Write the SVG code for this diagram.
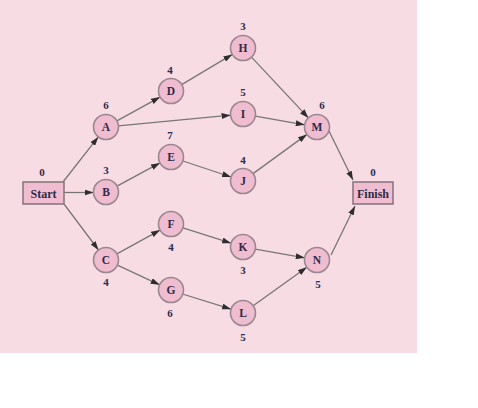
<svg xmlns="http://www.w3.org/2000/svg" width="478" height="408" viewBox="0 0 478 408">
<defs>
<marker id="ah" viewBox="0 0 9 6" refX="9" refY="3" markerWidth="9" markerHeight="6" markerUnits="userSpaceOnUse" orient="auto">
<path d="M0,0 L9,3 L0,6 z" fill="#2e2e2e"/>
</marker>
<style>
.e{stroke:#777;stroke-width:1.3;fill:none;marker-end:url(#ah)}
.n{fill:#f0bccf;stroke:#9a8890;stroke-width:1.6}
.b{fill:#f0bccf;stroke:#8a7880;stroke-width:1.6}
.t{font-family:"Liberation Serif",serif;font-weight:bold;font-size:11.5px;fill:#2b2b4a;text-anchor:middle}
.s{font-family:"Liberation Serif",serif;font-weight:bold;font-size:12px;fill:#2b2b4a;text-anchor:middle}
.l{font-family:"Liberation Serif",serif;font-weight:bold;font-size:11px;fill:#2b2b55;text-anchor:middle}
</style>
</defs>
<rect x="0" y="0" width="417" height="353" fill="#f8dce4"/>
<g id="connectors">
<line class="e" x1="63" y1="182" x2="98.3" y2="136.9"/>
<line class="e" x1="64" y1="192.5" x2="93.5" y2="192.5"/>
<line class="e" x1="64" y1="204" x2="98.5" y2="250"/>
<line class="e" x1="116.9" y1="120.9" x2="160.1" y2="97.1"/>
<line class="e" x1="118.4" y1="125.8" x2="230.6" y2="115.2"/>
<line class="e" x1="117" y1="186.1" x2="160" y2="162.9"/>
<line class="e" x1="181.7" y1="84.6" x2="232.3" y2="54.4"/>
<line class="e" x1="182.9" y1="161" x2="231.1" y2="177"/>
<line class="e" x1="251.5" y1="57.1" x2="308.4" y2="117.9"/>
<line class="e" x1="255.3" y1="116.2" x2="304.7" y2="124.8"/>
<line class="e" x1="253.1" y1="173.6" x2="306.9" y2="134.4"/>
<line class="e" x1="329" y1="131" x2="353" y2="180"/>
<line class="e" x1="331" y1="255" x2="355" y2="206"/>
<line class="e" x1="116.9" y1="253.9" x2="160.1" y2="230.1"/>
<line class="e" x1="117.4" y1="265.2" x2="159.7" y2="284.8"/>
<line class="e" x1="182.9" y1="227.8" x2="231.1" y2="243.2"/>
<line class="e" x1="176" y1="292" x2="231.1" y2="309.2"/>
<line class="e" x1="255.3" y1="249.2" x2="304.7" y2="257.8"/>
<line class="e" x1="253.2" y1="305.7" x2="306.8" y2="267.3"/>
</g>
<g id="Start"><rect class="b" x="23" y="182" width="41" height="22"/><text class="s" x="43.5" y="197.5">Start</text><text class="l" x="42" y="176">0</text></g>
<g id="Finish"><rect class="b" x="353" y="182" width="40" height="22"/><text class="s" x="373" y="197.5">Finish</text><text class="l" x="373" y="176">0</text></g>
<g id="A"><circle class="n" cx="106" cy="127" r="12.5"/><text class="t" x="106" y="131">A</text><text class="l" x="106" y="109">6</text></g>
<g id="B"><circle class="n" cx="106" cy="192" r="12.5"/><text class="t" x="106" y="196">B</text><text class="l" x="106" y="174">3</text></g>
<g id="C"><circle class="n" cx="106" cy="260" r="12.5"/><text class="t" x="106" y="264">C</text><text class="l" x="106" y="286">4</text></g>
<g id="D"><circle class="n" cx="171" cy="91" r="12.5"/><text class="t" x="171" y="95">D</text><text class="l" x="170" y="74">4</text></g>
<g id="E"><circle class="n" cx="171" cy="157" r="12.5"/><text class="t" x="171" y="161">E</text><text class="l" x="170" y="139">7</text></g>
<g id="F"><circle class="n" cx="171" cy="224" r="12.5"/><text class="t" x="171" y="228">F</text><text class="l" x="171" y="251">4</text></g>
<g id="G"><circle class="n" cx="171" cy="290" r="12.5"/><text class="t" x="171" y="294">G</text><text class="l" x="170" y="317">6</text></g>
<g id="H"><circle class="n" cx="243" cy="48" r="12.5"/><text class="t" x="243" y="52">H</text><text class="l" x="243" y="30">3</text></g>
<g id="I"><circle class="n" cx="243" cy="114" r="12.5"/><text class="t" x="243" y="118">I</text><text class="l" x="243" y="96">5</text></g>
<g id="J"><circle class="n" cx="243" cy="181" r="12.5"/><text class="t" x="243" y="185">J</text><text class="l" x="243" y="164">4</text></g>
<g id="K"><circle class="n" cx="243" cy="247" r="12.5"/><text class="t" x="243" y="251">K</text><text class="l" x="243" y="274">3</text></g>
<g id="L"><circle class="n" cx="243" cy="313" r="12.5"/><text class="t" x="243" y="317">L</text><text class="l" x="243" y="341">5</text></g>
<g id="M"><circle class="n" cx="317" cy="127" r="12.5"/><text class="t" x="317" y="131">M</text><text class="l" x="322" y="109">6</text></g>
<g id="N"><circle class="n" cx="317" cy="260" r="12.5"/><text class="t" x="317" y="264">N</text><text class="l" x="318" y="288">5</text></g>
</svg>
